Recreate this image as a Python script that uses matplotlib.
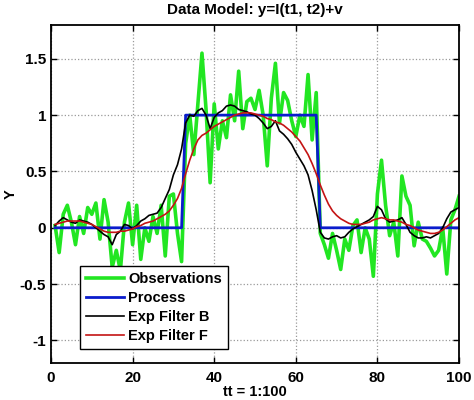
import numpy as np
import matplotlib
matplotlib.use('Agg')
import matplotlib.pyplot as plt

# time index tt = 1:100
tt = np.arange(1, 101)

# noisy observations
observations = [
    0.02, -0.22, 0.12, 0.20, 0.05, -0.15, 0.10, -0.05, 0.18, 0.12,
    0.22, -0.10, 0.25, 0.05, -0.35, -0.20, -0.38, 0.05, 0.22, -0.15,
    0.20, -0.28, 0.00, -0.12, 0.10, -0.05, 0.20, -0.25, 0.28, 0.30,
    -0.05, -0.30, 0.75, 1.00, 0.65, 1.10, 1.55, 1.05, 0.40, 1.10,
    0.70, 0.95, 0.80, 1.18, 0.95, 1.39, 0.88, 1.12, 1.15, 1.05,
    1.22, 1.00, 0.55, 1.15, 1.46, 0.93, 1.20, 1.13, 0.95, 0.81,
    1.00, 0.90, 1.36, 0.78, 1.20, -0.05, -0.15, -0.27, -0.05, -0.20,
    -0.37, -0.10, -0.20, 0.02, 0.07, -0.22, 0.00, -0.10, -0.43, 0.30,
    0.60, 0.20, -0.07, 0.05, -0.25, 0.46, 0.28, 0.20, -0.16, 0.05,
    -0.10, -0.12, -0.18, -0.25, -0.20, 0.00, -0.41, 0.07, 0.16, 0.28,
]

# true process: I(t1, t2)
process = [0] * 32 + [1] * 33 + [0] * 35

# backward exponential filter
filter_b = [
    0.02, 0.06, 0.09, 0.07, 0.05, 0.04, 0.07, 0.06, 0.05, 0.03,
    0.00, -0.03, -0.06, -0.08, -0.15, -0.06, -0.03, 0.03, 0.02, -0.01,
    0.02, 0.06, 0.08, 0.11, 0.12, 0.13, 0.18, 0.26, 0.34, 0.47,
    0.56, 0.70, 0.93, 1.00, 0.99, 1.04, 1.06, 1.00, 0.88, 0.98,
    1.02, 1.04, 1.08, 1.09, 1.08, 1.05, 1.04, 1.03, 1.01, 1.00,
    0.97, 0.93, 0.88, 0.90, 0.95, 0.86, 0.83, 0.79, 0.74, 0.67,
    0.61, 0.55, 0.47, 0.33, 0.16, -0.04, -0.09, -0.10, -0.08, -0.07,
    -0.09, -0.08, -0.04, -0.01, 0.01, 0.03, 0.05, 0.07, 0.10, 0.19,
    0.16, 0.08, 0.05, 0.06, 0.07, 0.09, 0.03, -0.04, -0.07, -0.09,
    -0.09, -0.08, -0.09, -0.07, -0.05, 0.00, 0.08, 0.14, 0.16, 0.18,
]

# forward exponential filter
filter_f = [
    0.03, 0.04, 0.05, 0.06, 0.06, 0.06, 0.06, 0.05, 0.04, 0.03,
    0.01, -0.01, -0.03, -0.04, -0.04, -0.04, -0.03, -0.03, -0.02, -0.01,
    0.01, 0.02, 0.04, 0.05, 0.06, 0.08, 0.10, 0.12, 0.15, 0.20,
    0.26, 0.35, 0.48, 0.60, 0.70, 0.78, 0.82, 0.84, 0.87, 0.90,
    0.92, 0.94, 0.96, 0.98, 1.00, 1.01, 1.02, 1.02, 1.02, 1.01,
    1.00, 0.99, 0.97, 0.96, 0.94, 0.93, 0.91, 0.88, 0.85, 0.81,
    0.77, 0.71, 0.65, 0.57, 0.48, 0.38, 0.29, 0.21, 0.15, 0.11,
    0.08, 0.06, 0.04, 0.03, 0.03, 0.03, 0.04, 0.05, 0.07, 0.08,
    0.09, 0.08, 0.07, 0.07, 0.06, 0.05, 0.03, 0.02, 0.00, -0.02,
    -0.03, -0.04, -0.05, -0.05, -0.04, -0.02, 0.01, 0.04, 0.07, 0.09,
]

plt.rcParams['font.family'] = ['Liberation Sans', 'DejaVu Sans']
plt.rcParams['font.weight'] = 'bold'

fig = plt.figure(figsize=(4.74, 4.0), dpi=100)
ax = fig.add_axes([0.1076, 0.0925, 0.8608, 0.845])

ax.plot(tt, observations, color='#22e622', linewidth=2.6, label='Observations')
ax.plot(tt, process, color='#0a1ccc', linewidth=2.0, label='Process')
ax.plot(tt, filter_b, color='black', linewidth=1.2, label='Exp Filter B')
ax.plot(tt, filter_f, color='#c41414', linewidth=1.2, label='Exp Filter F')

ax.set_xlim(0, 100)
ax.set_ylim(-1.2, 1.8)
ax.set_xticks([0, 20, 40, 60, 80, 100])
ax.set_yticks([-1, -0.5, 0, 0.5, 1, 1.5])
ax.set_yticklabels(['-1', '-0.5', '0', '0.5', '1', '1.5'])
ax.tick_params(direction='in', top=True, right=True, labelsize=11, length=4, width=1)
ax.tick_params(axis='x', pad=6)
ax.grid(True, linestyle=':', color='#999999', linewidth=0.9)
for s in ax.spines.values():
    s.set_linewidth(1.3)

ax.set_title('Data Model: y=I(t1, t2)+v', fontsize=11, fontweight='bold', pad=8)
ax.set_xlabel('tt = 1:100', fontsize=10.5, fontweight='bold')
ax.xaxis.set_label_coords(0.5, -0.066)
ax.set_ylabel('Y', fontsize=10.5, fontweight='bold')
ax.yaxis.set_label_coords(-0.082, 0.5)

leg = ax.legend(loc='lower left', bbox_to_anchor=(0.071, 0.041), borderaxespad=0,
                fontsize=10.5, fancybox=False, edgecolor='black', framealpha=1,
                handlelength=2.6, labelspacing=0.35, borderpad=0.4, handletextpad=0.3)
leg.get_frame().set_linewidth(1.0)

plt.savefig('out.png', dpi=100)
